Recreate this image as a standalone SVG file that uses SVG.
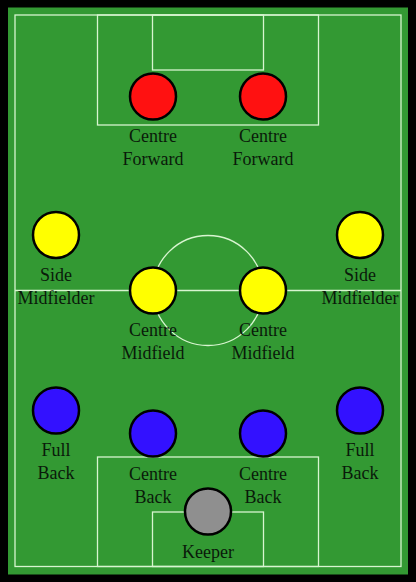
<svg xmlns="http://www.w3.org/2000/svg" width="416" height="582" viewBox="0 0 416 582">
<style>
.line{fill:none;stroke:#d8f5d0;stroke-width:1.3}
.p{stroke:#000;stroke-width:2.5}
.fw{fill:#ff1111}
.mf{fill:#ffff00}
.df{fill:#3311ff}
.gk{fill:#8f8f8f}
text{font-family:"Liberation Serif","Times New Roman",serif;font-size:18px;fill:#0a1a0a;text-anchor:middle}
</style>
<rect x="0" y="0" width="416" height="582" fill="#000"/>
<rect x="8" y="7.5" width="400" height="567" fill="#339933"/>
<g id="pitch" class="line">
<rect x="15" y="15" width="386" height="551.5"/>
<rect x="97.5" y="15" width="221" height="110"/>
<rect x="152.5" y="15" width="111" height="55"/>
<rect x="97.5" y="457" width="221" height="109.5"/>
<rect x="152.5" y="512" width="111" height="54.5"/>
<line x1="15" y1="290.5" x2="401" y2="290.5"/>
<circle cx="208" cy="290.5" r="55"/>
</g>
<g id="cf1"><circle class="p fw" cx="153" cy="96.5" r="23"/><text x="153" y="142">Centre</text><text x="153" y="165">Forward</text></g>
<g id="cf2"><circle class="p fw" cx="263" cy="96.5" r="23"/><text x="263" y="142">Centre</text><text x="263" y="165">Forward</text></g>
<g id="sm1"><circle class="p mf" cx="56" cy="235" r="23"/><text x="56" y="281">Side</text><text x="56" y="304">Midfielder</text></g>
<g id="sm2"><circle class="p mf" cx="360" cy="235" r="23"/><text x="360" y="281">Side</text><text x="360" y="304">Midfielder</text></g>
<g id="cm1"><circle class="p mf" cx="153" cy="290.5" r="23"/><text x="153" y="336">Centre</text><text x="153" y="359">Midfield</text></g>
<g id="cm2"><circle class="p mf" cx="263" cy="290.5" r="23"/><text x="263" y="336">Centre</text><text x="263" y="359">Midfield</text></g>
<g id="fb1"><circle class="p df" cx="56" cy="410.5" r="23"/><text x="56" y="456">Full</text><text x="56" y="479">Back</text></g>
<g id="fb2"><circle class="p df" cx="360" cy="410.5" r="23"/><text x="360" y="456">Full</text><text x="360" y="479">Back</text></g>
<g id="cb1"><circle class="p df" cx="153" cy="433.5" r="23"/><text x="153" y="479.5">Centre</text><text x="153" y="502.5">Back</text></g>
<g id="cb2"><circle class="p df" cx="263" cy="433.5" r="23"/><text x="263" y="479.5">Centre</text><text x="263" y="502.5">Back</text></g>
<g id="gk"><circle class="p gk" cx="208" cy="511.5" r="23"/><text x="208" y="558">Keeper</text></g>
</svg>
